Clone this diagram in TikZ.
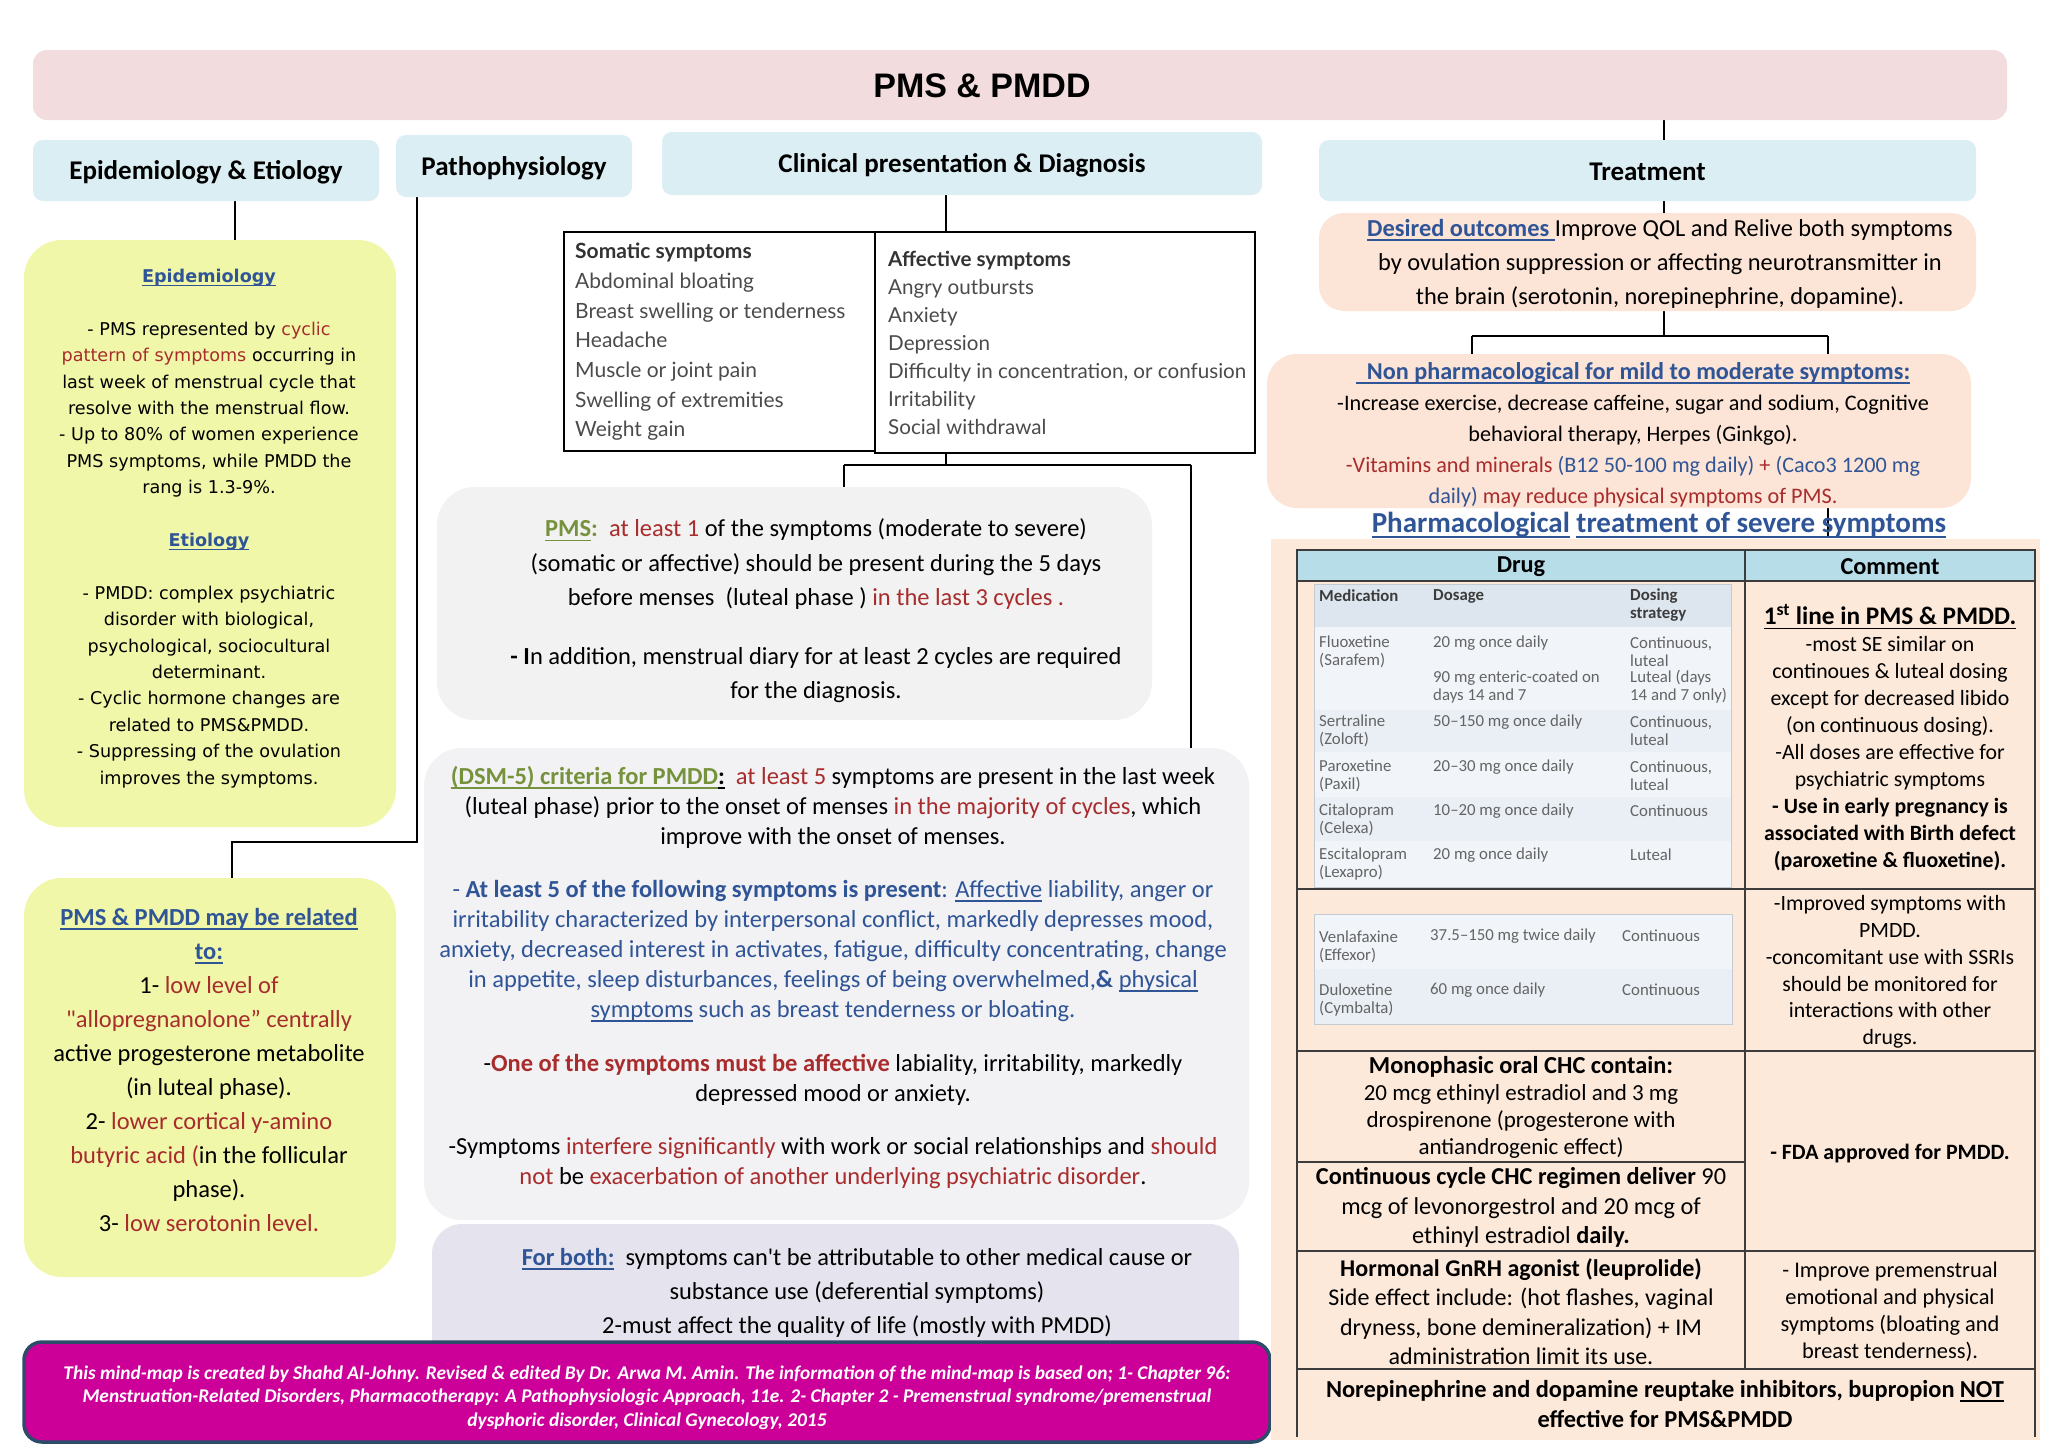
\documentclass[tikz,border=0pt]{standalone}
\usepackage{fontspec}
\setmainfont{Carlito}
\newfontfamily\arialf{Liberation Sans}
\newfontfamily\latof{Lato}
\newfontfamily\dvsf{DejaVu Sans}
\usetikzlibrary{backgrounds}
\definecolor{tpink}{RGB}{242,220,221}
\definecolor{hblue}{RGB}{218,238,243}
\definecolor{yel}{RGB}{240,247,168}
\definecolor{gbox}{RGB}{242,242,242}
\definecolor{dbox}{RGB}{242,241,244}
\definecolor{fbox}{RGB}{229,227,237}
\definecolor{peach}{RGB}{252,228,214}
\definecolor{peachbg}{RGB}{253,233,217}
\definecolor{thead}{RGB}{183,221,232}
\definecolor{mag}{RGB}{204,0,153}
\definecolor{fborder}{RGB}{44,76,106}
\definecolor{myred}{RGB}{168,44,44}
\definecolor{myblue}{RGB}{47,85,151}
\definecolor{mygreen}{RGB}{118,146,60}
\definecolor{itab}{RGB}{241,245,249}
\definecolor{itab2}{RGB}{233,239,245}
\definecolor{ihead}{RGB}{221,230,239}
\definecolor{iborder}{RGB}{196,202,208}
\definecolor{itxt}{RGB}{100,100,100}
\definecolor{ihtxt}{RGB}{60,60,60}
\definecolor{stxt}{RGB}{75,75,75}
\definecolor{tline}{RGB}{60,60,60}
\newcommand{\fs}[2]{\fontsize{#1}{#2}\selectfont}
\newcommand{\Rd}[1]{\textcolor{myred}{#1}}
\newcommand{\Bl}[1]{\textcolor{myblue}{#1}}
\newcommand{\UL}[1]{\leavevmode\setbox0\hbox{#1}\rlap{\rule[-0.17em]{\wd0}{0.055em}}\box0\relax}
\tikzset{
  hdr/.style={fill=hblue, rounded corners=10pt, inner sep=0pt},
  hdrtxt/.style={inner sep=0pt, font=\fs{27}{30}\bfseries},
  bigbox/.style={rounded corners=38pt, inner sep=0pt},
  txt/.style={align=center, inner sep=0pt},
  conn/.style={line width=1.6pt, black},
  tabline/.style={line width=1.5pt, tline},
  icell/.style={anchor=west, align=left, inner sep=0pt, font=\fs{16.8}{18}, text=itxt},
  ihcell/.style={anchor=west, align=left, inner sep=0pt, font=\fs{16.8}{18}\bfseries, text=ihtxt},
  cell/.style={align=center, inner sep=0pt, font=\fs{21.8}{27}}
}
\begin{document}
\begin{tikzpicture}[x=1pt,y=-1pt]
\begin{pgfonlayer}{background}
\fill[white] (0,0) rectangle (2048,1448);
\end{pgfonlayer}
\path[use as bounding box] (0,0) rectangle (2048,1448);

% title
\node[fill=tpink, rounded corners=14pt, minimum width=1974pt, minimum height=70pt, inner sep=0pt] (title) at (1020,85) {};
\node[font=\arialf\bfseries\fs{34}{38}, inner sep=0pt] (titleT) at (982,86) {PMS \& PMDD};

% headers
\node[hdr, minimum width=346pt, minimum height=61pt] (epiH) at (206,170.5) {};
\node[hdrtxt] (epiHT) at (206,172.5) {Epidemiology \& Etiology};
\node[hdr, minimum width=236pt, minimum height=62pt] (patH) at (514,166) {};
\node[hdrtxt] (patHT) at (514,168) {Pathophysiology};
\node[hdr, minimum width=600pt, minimum height=63pt] (cliH) at (962,163.5) {};
\node[hdrtxt] (cliHT) at (962,165.5) {Clinical presentation \& Diagnosis};
\node[hdr, minimum width=657pt, minimum height=61pt] (treH) at (1647.5,170.5) {};
\node[hdrtxt] (treHT) at (1647.5,172) {Treatment};

% epidemiology box
\node[bigbox, fill=yel, minimum width=372pt, minimum height=587pt] (epi) at (210,533.5) {};
\node[txt, font=\dvsf\fs{17.6}{26.4}] (epiT) at (209,528.5) {%
\textcolor{myblue}{\bfseries\UL{Epidemiology}}\\[26.4pt]
- PMS represented by \Rd{cyclic}\\
\Rd{pattern of symptoms} occurring in\\
last week of menstrual cycle that\\
resolve with the menstrual flow.\\
- Up to 80\% of women experience\\
PMS symptoms, while PMDD the\\
rang is 1.3-9\%.\\[26.4pt]
\textcolor{myblue}{\bfseries\UL{Etiology}}\\[26.4pt]
- PMDD: complex psychiatric\\
disorder with biological,\\
psychological, sociocultural\\
determinant.\\
- Cyclic hormone changes are\\
related to PMS\&PMDD.\\
- Suppressing of the ovulation\\
improves the symptoms.};

% related box
\node[bigbox, fill=yel, minimum width=372pt, minimum height=399pt] (rel) at (210,1077.5) {};
\node[txt, font=\fs{24.5}{34}] (relT) at (209,1070) {%
\textcolor{myblue}{\bfseries\UL{PMS \& PMDD may be related}}\\
\textcolor{myblue}{\bfseries\UL{to:}}\\
1- \Rd{low level of}\\
\Rd{\textquotedbl allopregnanolone” centrally}\\
active progesterone metabolite\\
(in luteal phase).\\
2- \Rd{lower cortical y-amino}\\
\Rd{butyric acid (}in the follicular\\
phase).\\
3- \Rd{low serotonin level.}};

% symptoms table
\node[draw, line width=1.5pt, minimum width=311pt, minimum height=219pt, inner sep=0pt, fill=white] (symL) at (719.5,341.5) {};
\node[draw, line width=1.5pt, minimum width=380pt, minimum height=221pt, inner sep=0pt, fill=white] (symR) at (1065,342.5) {};
\node[anchor=west, align=left, inner sep=0pt, font=\latof\fs{21}{29.7}, text=stxt] (symLT) at (575,342) {%
\textcolor{black!80}{\bfseries Somatic symptoms}\\
Abdominal bloating\\
Breast swelling or tenderness\\
Headache\\
Muscle or joint pain\\
Swelling of extremities\\
Weight gain};
\node[anchor=west, align=left, inner sep=0pt, font=\latof\fs{20.6}{28}, text=stxt] (symRT) at (888,343) {%
\textcolor{black!80}{\bfseries Affective symptoms}\\
Angry outbursts\\
Anxiety\\
Depression\\
Difficulty in concentration, or confusion\\
Irritability\\
Social withdrawal};

% PMS box
\node[bigbox, fill=gbox, minimum width=715pt, minimum height=233pt] (pms) at (794.5,603.5) {};
\node[txt, font=\fs{24.5}{34.5}] (pmsT) at (816,611) {%
\textcolor{mygreen}{\bfseries\UL{PMS}:}\ \ \Rd{at least 1} of the symptoms (moderate to severe)\\
(somatic or affective) should be present during the 5 days\\
before menses\ \ (luteal phase ) \Rd{in the last 3 cycles .}\\[24pt]
\textbf{- I}n addition, menstrual diary for at least 2 cycles are required\\
for the diagnosis.};

% DSM box
\node[bigbox, fill=dbox, minimum width=825pt, minimum height=472pt] (dsm) at (836.5,984) {};
\node[txt, font=\fs{24.5}{30}] (dsmT) at (833,977.5) {%
\textcolor{mygreen}{\bfseries\UL{(DSM-5) criteria for PMDD}}\textbf{\UL{:}}\ \ \Rd{at least 5} symptoms are present in the last week\\
(luteal phase) prior to the onset of menses \Rd{in the majority of cycles}, which\\
improve with the onset of menses.\\[23pt]
\Bl{- \textbf{At least 5 of the following symptoms is present}: \UL{Affective} liability, anger or}\\
\Bl{irritability characterized by interpersonal conflict, markedly depresses mood,}\\
\Bl{anxiety, decreased interest in activates, fatigue, difficulty concentrating, change}\\
\Bl{in appetite, sleep disturbances, feelings of being overwhelmed,\textbf{\&} \UL{physical}}\\
\Bl{\UL{symptoms} such as breast tenderness or bloating.}\\[24pt]
-\Rd{\textbf{One of the symptoms must be affective}} labiality, irritability, markedly\\
depressed mood or anxiety.\\[23pt]
-Symptoms \Rd{interfere significantly} with work or social relationships and \Rd{should}\\
\Rd{not} be \Rd{exacerbation of another underlying psychiatric disorder}.};

% for both box
\node[rounded corners=30pt, inner sep=0pt, fill=fbox, minimum width=807pt, minimum height=160pt] (both) at (835.5,1304) {};
\node[txt, font=\fs{24.4}{34}] (bothT) at (857,1293) {%
\textcolor{myblue}{\bfseries\UL{For both:}}\ \ symptoms can\textquotesingle t be attributable to other medical cause or\\
substance use (deferential symptoms)\\
2-must affect the quality of life (mostly with PMDD)};

% footer
\node[fill=mag, draw=fborder, line width=3.5pt, rounded corners=18pt, minimum width=1246pt, minimum height=100pt, inner sep=0pt] (foot) at (647,1392) {};
\node[txt, text=white, font=\bfseries\itshape\fs{19.4}{23.5}] (footT) at (647,1397.5) {%
This mind-map is created by Shahd Al-Johny. Revised \& edited By Dr. Arwa M. Amin. The information of the mind-map is based on; 1- Chapter 96:\\
Menstruation-Related Disorders, Pharmacotherapy: A Pathophysiologic Approach, 11e. 2- Chapter 2 - Premenstrual syndrome/premenstrual\\
dysphoric disorder, Clinical Gynecology, 2015};

% desired outcomes
\node[rounded corners=25pt, inner sep=0pt, fill=peach, minimum width=657pt, minimum height=98pt] (des) at (1647.5,262) {};
\node[txt, font=\fs{24.4}{34}] (desT) at (1660,264) {%
\textcolor{myblue}{\bfseries\UL{Desired outcomes\ }}Improve QOL and Relive both symptoms\\
by ovulation suppression or affecting neurotransmitter in\\
the brain (serotonin, norepinephrine, dopamine).};

% non pharmacological
\node[rounded corners=30pt, inner sep=0pt, fill=peach, minimum width=704pt, minimum height=154pt] (np) at (1619,431) {};
\node[txt, font=\fs{22.2}{31}] (npT) at (1633,435) {%
\textcolor{myblue}{\fs{24.2}{31}\bfseries\UL{\ \ Non pharmacological for mild to moderate symptoms:}}\\
-Increase exercise, decrease caffeine, sugar and sodium, Cognitive\\
behavioral therapy, Herpes (Ginkgo).\\
\Rd{-Vitamins and minerals}\ \Bl{(B12 50-100 mg daily)}\ \Rd{+}\ \Bl{(Caco3 1200 mg}\\
\Bl{daily)}\ \Rd{may reduce physical symptoms of PMS.}};

% pharmacological title
\node[inner sep=0pt, font=\bfseries\fs{29}{32}, text=myblue] (phT) at (1659,525) {\UL{Pharmacological}\ \UL{treatment of severe symptoms}};

% table background
\fill[peachbg] (1271,539) rectangle (2040,1440);
\fill[thead] (1297,550) rectangle (2035,581);
\draw[tabline] (1297,1437) -- (1297,550) -- (2035,550) -- (2035,1437);
\draw[tabline] (1745,550) -- (1745,1369);
\draw[tabline] (1297,581) -- (2035,581);
\draw[tabline] (1297,889) -- (2035,889);
\draw[tabline] (1297,1051) -- (2035,1051);
\draw[tabline] (1297,1162) -- (1745,1162);
\draw[tabline] (1297,1251) -- (2035,1251);
\draw[tabline] (1297,1369) -- (2035,1369);
\node[font=\fs{24.3}{26}\bfseries, inner sep=0pt] (drugH) at (1521,567) {Drug};
\node[font=\fs{24.3}{26}\bfseries, inner sep=0pt] (comH) at (1890,567) {Comment};

% inner table 1
\fill[itab] (1314,584) rectangle (1731,887);
\fill[ihead] (1314,584) rectangle (1731,627);
\fill[itab2] (1314,710) rectangle (1731,752);
\fill[itab2] (1314,797) rectangle (1731,841);
\draw[iborder, line width=1pt] (1314,584) rectangle (1731,887);
\node[ihcell] (h1) at (1319,596) {Medication};
\node[ihcell] (h2) at (1433,596) {Dosage};
\node[ihcell] (h3) at (1630,605) {Dosing\\strategy};
\node[icell] (m1) at (1319,652) {Fluoxetine\\(Sarafem)};
\node[icell] (d1) at (1433,643) {20 mg once daily};
\node[icell] (s1) at (1630,652) {Continuous,\\luteal};
\node[icell] (d1b) at (1433,687) {90 mg enteric-coated on\\days 14 and 7};
\node[icell] (s1b) at (1630,687) {Luteal (days\\14 and 7 only)};
\node[icell] (m2) at (1319,731) {Sertraline\\(Zoloft)};
\node[icell] (d2) at (1433,722) {50–150 mg once daily};
\node[icell] (s2) at (1630,731) {Continuous,\\luteal};
\node[icell] (m3) at (1319,776) {Paroxetine\\(Paxil)};
\node[icell] (d3) at (1433,767) {20–30 mg once daily};
\node[icell] (s3) at (1630,776) {Continuous,\\luteal};
\node[icell] (m4) at (1319,820) {Citalopram\\(Celexa)};
\node[icell] (d4) at (1433,811) {10–20 mg once daily};
\node[icell] (s4) at (1630,811) {Continuous};
\node[icell] (m5) at (1319,864.5) {Escitalopram\\(Lexapro)};
\node[icell] (d5) at (1433,855) {20 mg once daily};
\node[icell] (s5) at (1630,855) {Luteal};

% inner table 2
\fill[itab] (1314,914) rectangle (1732,1024);
\fill[itab2] (1314,969) rectangle (1732,1024);
\draw[iborder, line width=1pt] (1314,914) rectangle (1732,1024);
\node[icell] (m6) at (1319,946.5) {Venlafaxine\\(Effexor)};
\node[icell] (d6) at (1430,936) {37.5–150 mg twice daily};
\node[icell] (s6) at (1622,936) {Continuous};
\node[icell] (m7) at (1319,1000.5) {Duloxetine\\(Cymbalta)};
\node[icell] (d7) at (1430,990) {60 mg once daily};
\node[icell] (s7) at (1622,990) {Continuous};

% comments
\node[cell] (c1) at (1890,738) {%
{\fs{25.3}{30}\bfseries\UL{1\textsuperscript{st} line in PMS \& PMDD.}}\\
-most SE similar on\\
continoues \& luteal dosing\\
except for decreased libido\\
(on continuous dosing).\\
-All doses are effective for\\
psychiatric symptoms\\
\textbf{- Use in early pregnancy is}\\
\textbf{associated with Birth defect}\\
\textbf{(paroxetine \& fluoxetine).}};
\node[cell, font=\fs{21.8}{26.8}] (c2) at (1890,972) {%
-Improved symptoms with\\
PMDD.\\
-concomitant use with SSRIs\\
should be monitored for\\
interactions with other\\
drugs.};
\node[cell, font=\fs{23}{27}] (mono) at (1521,1107.5) {%
{\fs{24.4}{27}\bfseries Monophasic oral CHC contain:}\\
20 mcg ethinyl estradiol and 3 mg\\
drospirenone (progesterone with\\
antiandrogenic effect)};
\node[cell, font=\fs{24.3}{29.5}] (cont) at (1521,1207.5) {%
\textbf{Continuous cycle CHC regimen deliver} 90\\
mcg of levonorgestrol and 20 mcg of\\
ethinyl estradiol \textbf{daily.}};
\node[cell, font=\fs{21.9}{27}\bfseries] (fda) at (1890,1154) {- FDA approved for PMDD.};
\node[cell, font=\fs{24}{29.5}] (gnL) at (1521,1311.5) {%
\textbf{Hormonal GnRH agonist (leuprolide)}\\
Side effect include: (hot flashes, vaginal\\
dryness, bone demineralization) + IM\\
administration limit its use.};
\node[cell, font=\fs{22.4}{27}] (gnR) at (1890,1312) {%
- Improve premenstrual\\
emotional and physical\\
symptoms (bloating and\\
breast tenderness).};
\node[cell, font=\fs{24.4}{30}\bfseries] (last) at (1665,1404) {%
Norepinephrine and dopamine reuptake inhibitors, bupropion \UL{NOT}\\
effective for PMS\&PMDD};

% connectors
\coordinate (tx) at (1664,0);
\coordinate (dj) at (1664,336);
\coordinate (djl) at (1472,336);
\coordinate (djr) at (1828,336);
\coordinate (phj) at (1828,536);
\coordinate (ex) at (235,0);
\coordinate (pa) at (417,0);
\coordinate (pj) at (417,842);
\coordinate (pj2) at (232,842);
\coordinate (cx) at (946,0);
\coordinate (sj) at (946,465);
\coordinate (sjl) at (844,465);
\coordinate (sjr) at (1191,465);
\begin{pgfonlayer}{background}
\draw[conn] (title.south -| tx) -- (treH.north -| tx);
\draw[conn] (treH.south -| tx) -- (des.north -| tx);
\draw[conn] (des.south -| dj) -- (dj);
\draw[conn] (djl) -- (djr);
\draw[conn] (djl) -- (np.north -| djl);
\draw[conn] (djr) -- (phj);
\draw[conn] (epiH.south -| ex) -- (epi.north -| ex);
\draw[conn] (patH.south -| pa) -- (pj) -- (pj2) -- (rel.north -| pj2);
\draw[conn] (cliH.south -| cx) -- (symR.north -| cx);
\draw[conn] (symR.south -| cx) -- (sj);
\draw[conn] (sjl) -- (sjr);
\draw[conn] (sjl) -- (pms.north -| sjl);
\draw[conn] (sjr) -- (dsm.north -| sjr);
\end{pgfonlayer}
\end{tikzpicture}
\end{document}
